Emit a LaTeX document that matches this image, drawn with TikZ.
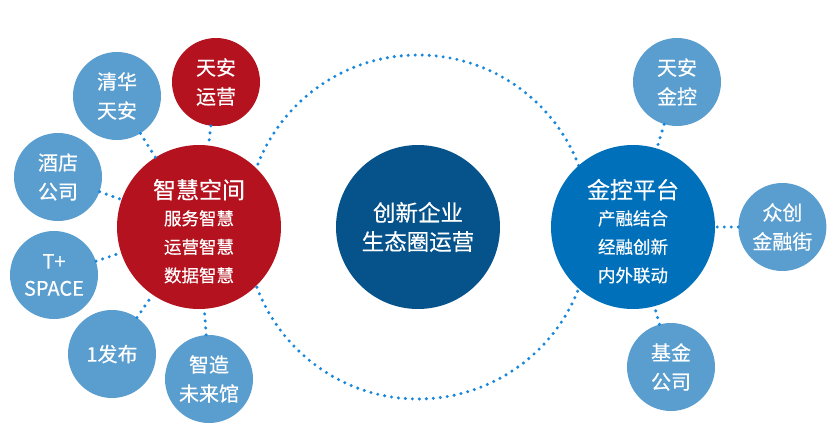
\documentclass[tikz,border=0pt]{standalone}
\usepackage{fontspec}
\setmainfont{Noto Sans CJK SC}[FakeBold=0.4]
\usetikzlibrary{positioning}
\definecolor{rojo}{RGB}{180,18,30}
\definecolor{celeste}{RGB}{90,158,207}
\definecolor{azul}{RGB}{6,82,138}
\definecolor{azulmedio}{RGB}{0,112,186}
\definecolor{puntito}{RGB}{25,135,220}
\newcommand\titulo{\fontsize{23}{26}\selectfont\rule{0pt}{28pt}}

\begin{document}
\begin{tikzpicture}[x=1pt,y=-1pt,every node/.style={circle,text=white,align=center,inner sep=0pt}, %todos los nodos son circulos con texto blanco
  chico/.style={fill=celeste,minimum size=88pt,font=\fontsize{20}{29}\selectfont},
  grande/.style={minimum size=164pt,font=\fontsize{17.5}{28.5}\selectfont},
  puntos/.style={draw=puntito,line width=3.4pt,line cap=round,dash pattern=on 0pt off 7pt}]
    \useasboundingbox (0,0) rectangle (838,428); %tamano de la imagen

    %El circulo punteado grande va primero (queda atras)
    \node[puntos,minimum size=344pt] (eco) at (418,227) {};

    %Los tres circulos grandes
    \node[grande,fill=rojo] (zh) at (199,227) {{\titulo 智慧空间}\\[-2pt] 服务智慧\\ 运营智慧\\ 数据智慧};
    \node[grande,fill=azul,font=\fontsize{22.5}{29}\selectfont] (eco-c) at (418,227) {创新企业\\ 生态圈运营};
    \node[grande,fill=azulmedio] (jk) at (633,227) {{\titulo 金控平台}\\[-2pt] 产融结合\\ 经融创新\\ 内外联动};

    %Los circulos chicos de la izquierda
    \node[chico,fill=rojo] (tay) at (216,82) {天安\\ 运营};
    \node[chico] (qh) at (117,96) {清华\\ 天安};
    \node[chico] (jd) at (58,177) {酒店\\ 公司};
    \node[chico,font=\fontsize{20}{27}\selectfont] (tp) at (54,275) {T+\\ SPACE};
    \node[chico] (fb) at (112,354) {1发布};
    \node[chico] (zz) at (209,379) {智造\\ 未来馆};

    %Los de la derecha
    \node[chico] (tjk) at (677,82) {天安\\ 金控};
    \node[chico,right=23pt of jk] (zc) {众创\\ 金融街};
    \node[chico] (jj) at (671,367) {基金\\ 公司};

    %Caminos punteados
    \draw[puntos] (tay) -- (zh);
    \draw[puntos] (qh) -- (zh);
    \draw[puntos] (jd) -- (zh);
    \draw[puntos] (tp) -- (zh);
    \draw[puntos] (fb) -- (zh);
    \draw[puntos] (zz) -- (zh);
    \draw[puntos] (tjk) -- (jk);
    \draw[puntos] (zc) -- (jk);
    \draw[puntos] (jj) -- (jk);
\end{tikzpicture}
\end{document}
